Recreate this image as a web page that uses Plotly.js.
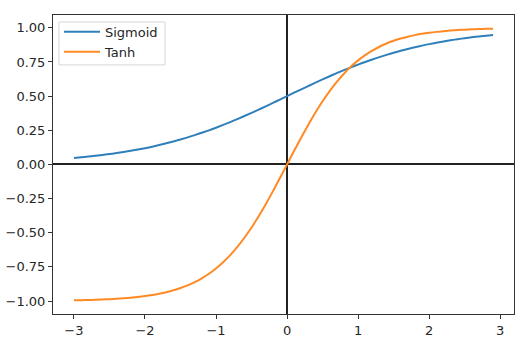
<!DOCTYPE html>
<html>
<head>
<meta charset="utf-8">
<script src="https://cdn.plot.ly/plotly-3.0.1.min.js"></script>
<style>html,body{margin:0;padding:0;background:#fff;}#chart{width:523px;height:348px;}</style>
</head>
<body>
<div id="chart"></div>
<script>
const xValues = [-3.0,-2.9,-2.8,-2.7,-2.6,-2.5,-2.4,-2.3,-2.2,-2.1,-2.0,-1.9,-1.8,-1.7,-1.6,-1.5,-1.4,-1.3,-1.2,-1.1,-1.0,-0.9,-0.8,-0.7,-0.6,-0.5,-0.4,-0.3,-0.2,-0.1,0.0,0.1,0.2,0.3,0.4,0.5,0.6,0.7,0.8,0.9,1.0,1.1,1.2,1.3,1.4,1.5,1.6,1.7,1.8,1.9,2.0,2.1,2.2,2.3,2.4,2.5,2.6,2.7,2.8,2.9];
const sigmoidValues = [0.0474,0.0522,0.0573,0.0630,0.0691,0.0759,0.0832,0.0911,0.0998,0.1091,0.1192,0.1301,0.1419,0.1545,0.1680,0.1824,0.1978,0.2142,0.2315,0.2497,0.2689,0.2891,0.3100,0.3318,0.3543,0.3775,0.4013,0.4256,0.4502,0.4750,0.5000,0.5250,0.5498,0.5744,0.5987,0.6225,0.6457,0.6682,0.6900,0.7109,0.7311,0.7503,0.7685,0.7858,0.8022,0.8176,0.8320,0.8455,0.8581,0.8699,0.8808,0.8909,0.9002,0.9089,0.9168,0.9241,0.9309,0.9370,0.9427,0.9478];
const tanhValues = [-0.9951,-0.9940,-0.9926,-0.9910,-0.9890,-0.9866,-0.9837,-0.9801,-0.9757,-0.9705,-0.9640,-0.9562,-0.9468,-0.9354,-0.9217,-0.9051,-0.8854,-0.8617,-0.8337,-0.8005,-0.7616,-0.7163,-0.6640,-0.6044,-0.5370,-0.4621,-0.3799,-0.2913,-0.1974,-0.0997,0.0000,0.0997,0.1974,0.2913,0.3799,0.4621,0.5370,0.6044,0.6640,0.7163,0.7616,0.8005,0.8337,0.8617,0.8854,0.9051,0.9217,0.9354,0.9468,0.9562,0.9640,0.9705,0.9757,0.9801,0.9837,0.9866,0.9890,0.9910,0.9926,0.9940];
const seriesNames = ["Sigmoid", "Tanh"];
const xTicks = [-3,-2,-1,0,1,2,3];
const xTickText = ["\u22123","\u22122","\u22121","0","1","2","3"];
const yTicks = [-1.0,-0.75,-0.5,-0.25,0.0,0.25,0.5,0.75,1.0];
const yTickText = ["\u22121.00","\u22120.75","\u22120.50","\u22120.25","0.00","0.25","0.50","0.75","1.00"];

const traces = [
  {x: xValues, y: sigmoidValues, name: seriesNames[0], type: 'scatter', mode: 'lines', line: {color: '#2f80ba', width: 2, shape: 'spline', smoothing: 1}},
  {x: xValues, y: tanhValues, name: seriesNames[1], type: 'scatter', mode: 'lines', line: {color: '#ff8a24', width: 2, shape: 'spline', smoothing: 1}}
];
const axisCommon = {
  showgrid: false, showline: true, mirror: true, linecolor: '#333', linewidth: 1,
  ticks: 'outside', ticklen: 4, tickwidth: 1, tickcolor: '#333',
  zeroline: true, zerolinecolor: '#222', zerolinewidth: 2,
  tickfont: {family: 'DejaVu Sans', size: 13, color: '#262626'}
};
const layout = {
  width: 523, height: 348,
  margin: {l: 53, r: 9, t: 15, b: 34, pad: 0},
  paper_bgcolor: '#fff', plot_bgcolor: '#fff',
  showlegend: true,
  legend: {x: 0.013, y: 0.994, xanchor: 'left', yanchor: 'top', bgcolor: 'rgba(0,0,0,0)', borderwidth: 0,
           font: {family: 'DejaVu Sans', size: 13, color: '#262626'}, itemwidth: 36, tracegroupgap: 0},
  shapes: [
    {type: 'rect', xref: 'paper', yref: 'paper', x0: 0.013, x1: 0.243, y0: 0.833, y1: 0.9766,
     line: {color: '#d6d6d6', width: 1}, fillcolor: 'rgba(255,255,255,0.8)', layer: 'above'}
  ],
  xaxis: Object.assign({}, axisCommon, {range: [-3.295, 3.195], tickvals: xTicks, ticktext: xTickText}),
  yaxis: Object.assign({}, axisCommon, {range: [-1.095, 1.094], tickvals: yTicks, ticktext: yTickText})
};
Plotly.newPlot('chart', traces, layout, {displayModeBar: false, staticPlot: true});
</script>
</body>
</html>
